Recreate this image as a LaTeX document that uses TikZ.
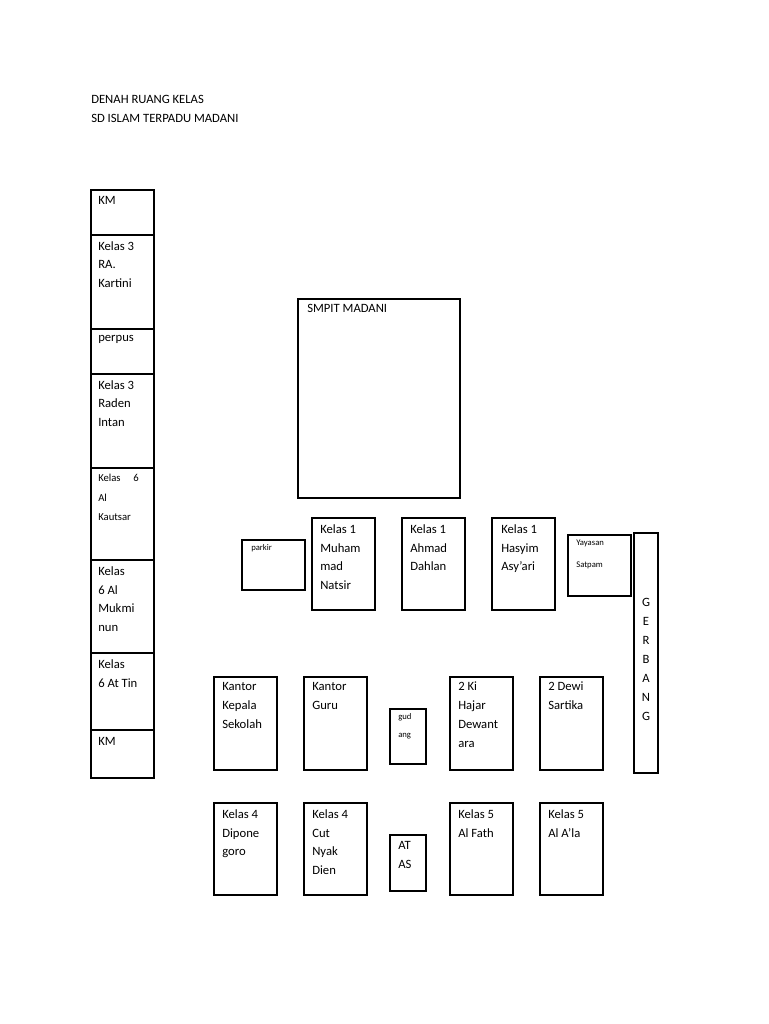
\documentclass[tikz,border=0pt]{standalone}
\usepackage{fontspec}
\setmainfont{Carlito}
\begin{document}
\begin{tikzpicture}[x=0.75pt,y=-0.75pt,
  room/.style={draw,line width=0.8pt},
  lbl/.style={anchor=north west,align=left,inner sep=0pt,font=\fontsize{9.5}{14.2}\selectfont},
  sml/.style={anchor=north west,align=left,inner sep=0pt,font=\fontsize{6.5}{14}\selectfont}]
\useasboundingbox (0,0) rectangle (768,1024);
\node[lbl] (t) at (91,95) {DENAH RUANG KELAS\\SD ISLAM TERPADU MADANI};
% left column
\draw[room] (91,190) rectangle (154,235); \node[lbl] (a1) at (98,196) {KM};
\draw[room] (91,235) rectangle (154,329); \node[lbl] (a2) at (98,241) {Kelas 3\\RA.\\Kartini};
\draw[room] (91,329) rectangle (154,374); \node[lbl] (a3) at (98,335) {perpus};
\draw[room] (91,374) rectangle (154,468); \node[lbl] (a4) at (98,380) {Kelas 3\\Raden\\Intan};
\draw[room] (91,468) rectangle (154,560); \node[sml,font=\fontsize{8}{14.5}\selectfont] (a5) at (98,474) {Kelas\hspace{1.2em}6\\Al\\Kautsar};
\draw[room] (91,560) rectangle (154,653); \node[lbl] (a6) at (98,566) {Kelas\\6 Al\\Mukmi\\nun};
\draw[room] (91,653) rectangle (154,730); \node[lbl] (a7) at (98,659) {Kelas\\6 At Tin};
\draw[room] (91,730) rectangle (154,778); \node[lbl] (a8) at (98,737) {KM};
% SMPIT
\draw[room] (298,299) rectangle (460,498); \node[lbl] (s) at (307,304) {SMPIT MADANI};
% row 1
\draw[room] (242,540) rectangle (305,590); \node[sml] (p) at (251,544) {parkir};
\draw[room] (312,518) rectangle (375,610); \node[lbl] (k1a) at (320,524) {Kelas 1\\Muham\\mad\\Natsir};
\draw[room] (402,518) rectangle (465,610); \node[lbl] (k1b) at (410,524) {Kelas 1\\Ahmad\\Dahlan};
\draw[room] (492,518) rectangle (555,610); \node[lbl] (k1c) at (501,524) {Kelas 1\\Hasyim\\Asy'ari};
\draw[room] (568,535) rectangle (631,596); \node[sml,font=\fontsize{6.5}{16}\selectfont] (y) at (576,540) {Yayasan\\Satpam};
\draw[room] (634,533) rectangle (658,773);
\node[lbl,anchor=north,align=center] (g) at (646,598) {G\\E\\R\\B\\A\\N\\G};
% row 2
\draw[room] (214,677) rectangle (277,770); \node[lbl] (r1) at (222,682) {Kantor\\Kepala\\Sekolah};
\draw[room] (304,677) rectangle (367,770); \node[lbl] (r2) at (312,682) {Kantor\\Guru};
\draw[room] (390,709) rectangle (426,764); \node[sml] (r3) at (398,713) {gud\\ang};
\draw[room] (450,677) rectangle (513,770); \node[lbl] (r4) at (458,682) {2 Ki\\Hajar\\Dewant\\ara};
\draw[room] (540,677) rectangle (603,770); \node[lbl] (r5) at (548,682) {2 Dewi\\Sartika};
% row 3
\draw[room] (214,803) rectangle (277,895); \node[lbl] (q1) at (222,809) {Kelas 4\\Dipone\\goro};
\draw[room] (304,803) rectangle (367,895); \node[lbl] (q2) at (312,809) {Kelas 4\\Cut\\Nyak\\Dien};
\draw[room] (390,835) rectangle (426,891); \node[lbl] (q3) at (398,841) {AT\\AS};
\draw[room] (450,803) rectangle (513,895); \node[lbl] (q4) at (458,809) {Kelas 5\\Al Fath};
\draw[room] (540,803) rectangle (603,895); \node[lbl] (q5) at (548,809) {Kelas 5\\Al A'la};
\end{tikzpicture}
\end{document}
